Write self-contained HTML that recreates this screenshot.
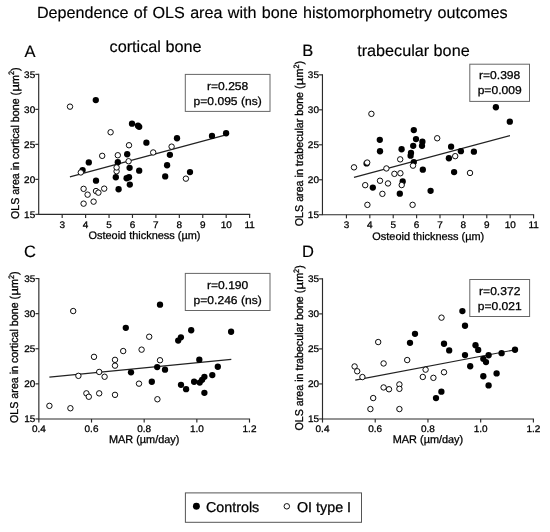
<!DOCTYPE html>
<html><head><meta charset="utf-8"><title>Dependence of OLS area with bone histomorphometry outcomes</title>
<style>html,body{margin:0;padding:0;background:#fff}svg{display:block}text{font-family:"Liberation Sans",Arial,sans-serif;fill:#000;text-rendering:geometricPrecision;stroke:#000;stroke-width:0.28px}.big text{stroke-width:0.15px}</style>
</head><body>
<svg width="550" height="532" viewBox="0 0 550 532">
<rect width="550" height="532" fill="#fff"/>
<g class="big"><text x="36.9" y="18.4" font-size="16.15" word-spacing="0.83">Dependence of OLS area with bone histomorphometry outcomes</text><text x="24.5" y="56.7" font-size="16.5">A</text><text x="302.3" y="55.8" font-size="16.5">B</text><text x="24.1" y="256.9" font-size="16.5">C</text><text x="301.9" y="256.7" font-size="16.5">D</text><text x="155.5" y="52" text-anchor="middle" font-size="16.23">cortical bone</text><text x="413.4" y="55.6" text-anchor="middle" font-size="16.2">trabecular bone</text></g><path d="M38.7 73.77499999999999V214.35H250.195" fill="none" stroke="#2a2a2a" stroke-width="1.15"/><path d="M35.30 74.35H38.7" stroke="#2a2a2a" stroke-width="1.15"/><text transform="translate(35.20 77.65) scale(1.04 1)" text-anchor="end" font-size="9.6">35</text><path d="M35.30 109.35H38.7" stroke="#2a2a2a" stroke-width="1.15"/><text transform="translate(35.20 112.65) scale(1.04 1)" text-anchor="end" font-size="9.6">30</text><path d="M35.30 144.35H38.7" stroke="#2a2a2a" stroke-width="1.15"/><text transform="translate(35.20 147.65) scale(1.04 1)" text-anchor="end" font-size="9.6">25</text><path d="M35.30 179.35H38.7" stroke="#2a2a2a" stroke-width="1.15"/><text transform="translate(35.20 182.65) scale(1.04 1)" text-anchor="end" font-size="9.6">20</text><path d="M35.30 214.35H38.7" stroke="#2a2a2a" stroke-width="1.15"/><text transform="translate(35.20 217.65) scale(1.04 1)" text-anchor="end" font-size="9.6">15</text><path d="M62.18 214.35V217.95" stroke="#2a2a2a" stroke-width="1.15"/><text transform="translate(62.18 227.75) scale(1.04 1)" text-anchor="middle" font-size="9.6">3</text><path d="M85.61 214.35V217.95" stroke="#2a2a2a" stroke-width="1.15"/><text transform="translate(85.61 227.75) scale(1.04 1)" text-anchor="middle" font-size="9.6">4</text><path d="M109.04 214.35V217.95" stroke="#2a2a2a" stroke-width="1.15"/><text transform="translate(109.04 227.75) scale(1.04 1)" text-anchor="middle" font-size="9.6">5</text><path d="M132.47 214.35V217.95" stroke="#2a2a2a" stroke-width="1.15"/><text transform="translate(132.47 227.75) scale(1.04 1)" text-anchor="middle" font-size="9.6">6</text><path d="M155.90 214.35V217.95" stroke="#2a2a2a" stroke-width="1.15"/><text transform="translate(155.90 227.75) scale(1.04 1)" text-anchor="middle" font-size="9.6">7</text><path d="M179.33 214.35V217.95" stroke="#2a2a2a" stroke-width="1.15"/><text transform="translate(179.33 227.75) scale(1.04 1)" text-anchor="middle" font-size="9.6">8</text><path d="M202.76 214.35V217.95" stroke="#2a2a2a" stroke-width="1.15"/><text transform="translate(202.76 227.75) scale(1.04 1)" text-anchor="middle" font-size="9.6">9</text><path d="M226.19 214.35V217.95" stroke="#2a2a2a" stroke-width="1.15"/><text transform="translate(226.19 227.75) scale(1.04 1)" text-anchor="middle" font-size="9.6">10</text><path d="M249.62 214.35V217.95" stroke="#2a2a2a" stroke-width="1.15"/><text transform="translate(249.62 227.75) scale(1.04 1)" text-anchor="middle" font-size="9.6">11</text><text x="144.5" y="239.45" text-anchor="middle" font-size="10.93">Osteoid thickness (µm)</text><text transform="translate(18.6 143.2) rotate(-90) scale(1 1.06)" text-anchor="middle" font-size="10.7">OLS area in cortical bone (<tspan textLength="7.9" lengthAdjust="spacingAndGlyphs">µ</tspan>m<tspan font-size="7.3" dy="-4">2</tspan><tspan dy="4">)</tspan></text><path d="M69.9 176.9L226 134.8" stroke="#222" stroke-width="1.2"/><circle cx="95.8" cy="100.05" r="3.15" fill="#000"/><circle cx="132" cy="123.65" r="3.15" fill="#000"/><circle cx="138" cy="125.65" r="3.15" fill="#000"/><circle cx="139.2" cy="126.85" r="3.15" fill="#000"/><circle cx="146.4" cy="142.65" r="3.15" fill="#000"/><circle cx="127.2" cy="154.25" r="3.15" fill="#000"/><circle cx="169.9" cy="154.85" r="3.15" fill="#000"/><circle cx="88.8" cy="162.45" r="3.15" fill="#000"/><circle cx="117.8" cy="162.25" r="3.15" fill="#000"/><circle cx="82.6" cy="170.05" r="3.15" fill="#000"/><circle cx="129.6" cy="167.85" r="3.15" fill="#000"/><circle cx="139.2" cy="170.65" r="3.15" fill="#000"/><circle cx="167.1" cy="165.25" r="3.15" fill="#000"/><circle cx="115.8" cy="177.25" r="3.15" fill="#000"/><circle cx="129" cy="177.25" r="3.15" fill="#000"/><circle cx="126.6" cy="178.25" r="3.15" fill="#000"/><circle cx="165.2" cy="176.45" r="3.15" fill="#000"/><circle cx="96" cy="180.65" r="3.15" fill="#000"/><circle cx="129.8" cy="184.55" r="3.15" fill="#000"/><circle cx="118.6" cy="189.25" r="3.15" fill="#000"/><circle cx="226.1" cy="133.25" r="3.15" fill="#000"/><circle cx="212" cy="135.95" r="3.15" fill="#000"/><circle cx="177" cy="138.25" r="3.15" fill="#000"/><circle cx="190" cy="172.05" r="3.15" fill="#000"/><circle cx="70" cy="106.65" r="2.72" fill="#fff" stroke="#000" stroke-width="0.95"/><circle cx="110.6" cy="132.25" r="2.72" fill="#fff" stroke="#000" stroke-width="0.95"/><circle cx="129" cy="145.25" r="2.72" fill="#fff" stroke="#000" stroke-width="0.95"/><circle cx="102.2" cy="155.85" r="2.72" fill="#fff" stroke="#000" stroke-width="0.95"/><circle cx="117.8" cy="155.25" r="2.72" fill="#fff" stroke="#000" stroke-width="0.95"/><circle cx="153.2" cy="152.45" r="2.72" fill="#fff" stroke="#000" stroke-width="0.95"/><circle cx="171.6" cy="146.65" r="2.72" fill="#fff" stroke="#000" stroke-width="0.95"/><circle cx="128.6" cy="161.25" r="2.72" fill="#fff" stroke="#000" stroke-width="0.95"/><circle cx="80.8" cy="172.45" r="2.72" fill="#fff" stroke="#000" stroke-width="0.95"/><circle cx="116.6" cy="171.25" r="2.72" fill="#fff" stroke="#000" stroke-width="0.95"/><circle cx="116.6" cy="167.45" r="2.72" fill="#fff" stroke="#000" stroke-width="0.95"/><circle cx="83.6" cy="188.85" r="2.72" fill="#fff" stroke="#000" stroke-width="0.95"/><circle cx="87.6" cy="194.65" r="2.72" fill="#fff" stroke="#000" stroke-width="0.95"/><circle cx="83.6" cy="203.65" r="2.72" fill="#fff" stroke="#000" stroke-width="0.95"/><circle cx="93.6" cy="201.65" r="2.72" fill="#fff" stroke="#000" stroke-width="0.95"/><circle cx="96" cy="191.05" r="2.72" fill="#fff" stroke="#000" stroke-width="0.95"/><circle cx="98.4" cy="192.65" r="2.72" fill="#fff" stroke="#000" stroke-width="0.95"/><circle cx="104.2" cy="188.65" r="2.72" fill="#fff" stroke="#000" stroke-width="0.95"/><circle cx="185.9" cy="178.65" r="2.72" fill="#fff" stroke="#000" stroke-width="0.95"/><rect x="185.3" y="74.4" width="84.70" height="37.00" fill="#fff" stroke="#666" stroke-width="1"/><text transform="translate(227.65 89.60) scale(1.06 1)" text-anchor="middle" font-size="11.4">r=0.258</text><text transform="translate(227.65 104.60) scale(1.06 1)" text-anchor="middle" font-size="11.4">p=0.095 (ns)</text><path d="M322.45 74.27499999999999V214.75H534.135" fill="none" stroke="#2a2a2a" stroke-width="1.15"/><path d="M319.05 74.85H322.45" stroke="#2a2a2a" stroke-width="1.15"/><text transform="translate(318.95 78.15) scale(1.04 1)" text-anchor="end" font-size="9.6">35</text><path d="M319.05 109.82H322.45" stroke="#2a2a2a" stroke-width="1.15"/><text transform="translate(318.95 113.12) scale(1.04 1)" text-anchor="end" font-size="9.6">30</text><path d="M319.05 144.80H322.45" stroke="#2a2a2a" stroke-width="1.15"/><text transform="translate(318.95 148.10) scale(1.04 1)" text-anchor="end" font-size="9.6">25</text><path d="M319.05 179.78H322.45" stroke="#2a2a2a" stroke-width="1.15"/><text transform="translate(318.95 183.08) scale(1.04 1)" text-anchor="end" font-size="9.6">20</text><path d="M319.05 214.75H322.45" stroke="#2a2a2a" stroke-width="1.15"/><text transform="translate(318.95 218.05) scale(1.04 1)" text-anchor="end" font-size="9.6">15</text><path d="M346.44 214.75V218.35" stroke="#2a2a2a" stroke-width="1.15"/><text transform="translate(346.44 228.15) scale(1.04 1)" text-anchor="middle" font-size="9.6">3</text><path d="M369.83 214.75V218.35" stroke="#2a2a2a" stroke-width="1.15"/><text transform="translate(369.83 228.15) scale(1.04 1)" text-anchor="middle" font-size="9.6">4</text><path d="M393.22 214.75V218.35" stroke="#2a2a2a" stroke-width="1.15"/><text transform="translate(393.22 228.15) scale(1.04 1)" text-anchor="middle" font-size="9.6">5</text><path d="M416.61 214.75V218.35" stroke="#2a2a2a" stroke-width="1.15"/><text transform="translate(416.61 228.15) scale(1.04 1)" text-anchor="middle" font-size="9.6">6</text><path d="M440.00 214.75V218.35" stroke="#2a2a2a" stroke-width="1.15"/><text transform="translate(440.00 228.15) scale(1.04 1)" text-anchor="middle" font-size="9.6">7</text><path d="M463.39 214.75V218.35" stroke="#2a2a2a" stroke-width="1.15"/><text transform="translate(463.39 228.15) scale(1.04 1)" text-anchor="middle" font-size="9.6">8</text><path d="M486.78 214.75V218.35" stroke="#2a2a2a" stroke-width="1.15"/><text transform="translate(486.78 228.15) scale(1.04 1)" text-anchor="middle" font-size="9.6">9</text><path d="M510.17 214.75V218.35" stroke="#2a2a2a" stroke-width="1.15"/><text transform="translate(510.17 228.15) scale(1.04 1)" text-anchor="middle" font-size="9.6">10</text><path d="M533.56 214.75V218.35" stroke="#2a2a2a" stroke-width="1.15"/><text transform="translate(533.56 228.15) scale(1.04 1)" text-anchor="middle" font-size="9.6">11</text><text x="428.3" y="239.75" text-anchor="middle" font-size="10.93">Osteoid thickness (µm)</text><text transform="translate(303.1 143.6) rotate(-90) scale(1 1.06)" text-anchor="middle" font-size="10.7">OLS area in trabecular bone (<tspan textLength="7.9" lengthAdjust="spacingAndGlyphs">µ</tspan>m<tspan font-size="7.3" dy="-4">2</tspan><tspan dy="4">)</tspan></text><path d="M354 177.3L510 135.6" stroke="#222" stroke-width="1.2"/><circle cx="413.8" cy="130.05" r="3.15" fill="#000"/><circle cx="416" cy="139.05" r="3.15" fill="#000"/><circle cx="379.8" cy="139.85" r="3.15" fill="#000"/><circle cx="422.4" cy="141.65" r="3.15" fill="#000"/><circle cx="422" cy="145.85" r="3.15" fill="#000"/><circle cx="413.2" cy="145.85" r="3.15" fill="#000"/><circle cx="401.6" cy="149.25" r="3.15" fill="#000"/><circle cx="380" cy="151.25" r="3.15" fill="#000"/><circle cx="411" cy="152.85" r="3.15" fill="#000"/><circle cx="410.6" cy="155.65" r="3.15" fill="#000"/><circle cx="413.8" cy="162.05" r="3.15" fill="#000"/><circle cx="366.6" cy="163.45" r="3.15" fill="#000"/><circle cx="422.8" cy="169.65" r="3.15" fill="#000"/><circle cx="402.7" cy="181.45" r="3.15" fill="#000"/><circle cx="372.8" cy="187.55" r="3.15" fill="#000"/><circle cx="430.6" cy="190.85" r="3.15" fill="#000"/><circle cx="399.8" cy="193.65" r="3.15" fill="#000"/><circle cx="495.9" cy="107.25" r="3.15" fill="#000"/><circle cx="509.8" cy="121.65" r="3.15" fill="#000"/><circle cx="451.1" cy="146.65" r="3.15" fill="#000"/><circle cx="460.9" cy="151.15" r="3.15" fill="#000"/><circle cx="473.9" cy="151.65" r="3.15" fill="#000"/><circle cx="448.9" cy="158.25" r="3.15" fill="#000"/><circle cx="454.1" cy="172.05" r="3.15" fill="#000"/><circle cx="371.4" cy="113.85" r="2.72" fill="#fff" stroke="#000" stroke-width="0.95"/><circle cx="437.2" cy="138.25" r="2.72" fill="#fff" stroke="#000" stroke-width="0.95"/><circle cx="400.2" cy="159.35" r="2.72" fill="#fff" stroke="#000" stroke-width="0.95"/><circle cx="367.2" cy="162.55" r="2.72" fill="#fff" stroke="#000" stroke-width="0.95"/><circle cx="354" cy="167.35" r="2.72" fill="#fff" stroke="#000" stroke-width="0.95"/><circle cx="413" cy="165.65" r="2.72" fill="#fff" stroke="#000" stroke-width="0.95"/><circle cx="386.4" cy="168.45" r="2.72" fill="#fff" stroke="#000" stroke-width="0.95"/><circle cx="394.4" cy="173.85" r="2.72" fill="#fff" stroke="#000" stroke-width="0.95"/><circle cx="400.4" cy="173.25" r="2.72" fill="#fff" stroke="#000" stroke-width="0.95"/><circle cx="380" cy="180.75" r="2.72" fill="#fff" stroke="#000" stroke-width="0.95"/><circle cx="401.7" cy="185.05" r="2.72" fill="#fff" stroke="#000" stroke-width="0.95"/><circle cx="365.2" cy="185.15" r="2.72" fill="#fff" stroke="#000" stroke-width="0.95"/><circle cx="388" cy="183.45" r="2.72" fill="#fff" stroke="#000" stroke-width="0.95"/><circle cx="367.4" cy="204.85" r="2.72" fill="#fff" stroke="#000" stroke-width="0.95"/><circle cx="412.6" cy="204.85" r="2.72" fill="#fff" stroke="#000" stroke-width="0.95"/><circle cx="382.4" cy="193.85" r="2.72" fill="#fff" stroke="#000" stroke-width="0.95"/><circle cx="455.2" cy="156.15" r="2.72" fill="#fff" stroke="#000" stroke-width="0.95"/><circle cx="470" cy="172.95" r="2.72" fill="#fff" stroke="#000" stroke-width="0.95"/><rect x="469.8" y="64.2" width="59.70" height="37.20" fill="#fff" stroke="#666" stroke-width="1"/><text transform="translate(499.65 79.40) scale(1.06 1)" text-anchor="middle" font-size="11.4">r=0.398</text><text transform="translate(499.65 94.40) scale(1.06 1)" text-anchor="middle" font-size="11.4">p=0.009</text><path d="M38.85 277.975V418.95H250.07499999999996" fill="none" stroke="#2a2a2a" stroke-width="1.15"/><path d="M35.45 278.55H38.85" stroke="#2a2a2a" stroke-width="1.15"/><text transform="translate(35.35 281.85) scale(1.04 1)" text-anchor="end" font-size="9.6">35</text><path d="M35.45 313.65H38.85" stroke="#2a2a2a" stroke-width="1.15"/><text transform="translate(35.35 316.95) scale(1.04 1)" text-anchor="end" font-size="9.6">30</text><path d="M35.45 348.75H38.85" stroke="#2a2a2a" stroke-width="1.15"/><text transform="translate(35.35 352.05) scale(1.04 1)" text-anchor="end" font-size="9.6">25</text><path d="M35.45 383.85H38.85" stroke="#2a2a2a" stroke-width="1.15"/><text transform="translate(35.35 387.15) scale(1.04 1)" text-anchor="end" font-size="9.6">20</text><path d="M35.45 418.95H38.85" stroke="#2a2a2a" stroke-width="1.15"/><text transform="translate(35.35 422.25) scale(1.04 1)" text-anchor="end" font-size="9.6">15</text><path d="M38.85 418.95V422.55" stroke="#2a2a2a" stroke-width="1.15"/><text transform="translate(38.85 432.35) scale(1.04 1)" text-anchor="middle" font-size="9.6">0.4</text><path d="M91.51 418.95V422.55" stroke="#2a2a2a" stroke-width="1.15"/><text transform="translate(91.51 432.35) scale(1.04 1)" text-anchor="middle" font-size="9.6">0.6</text><path d="M144.18 418.95V422.55" stroke="#2a2a2a" stroke-width="1.15"/><text transform="translate(144.18 432.35) scale(1.04 1)" text-anchor="middle" font-size="9.6">0.8</text><path d="M196.84 418.95V422.55" stroke="#2a2a2a" stroke-width="1.15"/><text transform="translate(196.84 432.35) scale(1.04 1)" text-anchor="middle" font-size="9.6">1.0</text><path d="M249.50 418.95V422.55" stroke="#2a2a2a" stroke-width="1.15"/><text transform="translate(249.50 432.35) scale(1.04 1)" text-anchor="middle" font-size="9.6">1.2</text><text x="144.2" y="442.55" text-anchor="middle" font-size="10.9">MAR (µm/day)</text><text transform="translate(18.4 347.2) rotate(-90) scale(1 1.06)" text-anchor="middle" font-size="10.7">OLS area in cortical bone (<tspan textLength="7.9" lengthAdjust="spacingAndGlyphs">µ</tspan>m<tspan font-size="7.3" dy="-4">2</tspan><tspan dy="4">)</tspan></text><path d="M49.4 377.2L231.3 359.3" stroke="#222" stroke-width="1.2"/><circle cx="125.8" cy="327.85" r="3.15" fill="#000"/><circle cx="131" cy="372.35" r="3.15" fill="#000"/><circle cx="151.8" cy="381.75" r="3.15" fill="#000"/><circle cx="160" cy="304.65" r="3.15" fill="#000"/><circle cx="191.2" cy="330.25" r="3.15" fill="#000"/><circle cx="231.1" cy="331.75" r="3.15" fill="#000"/><circle cx="180.9" cy="337.35" r="3.15" fill="#000"/><circle cx="178.2" cy="340.55" r="3.15" fill="#000"/><circle cx="199.3" cy="359.65" r="3.15" fill="#000"/><circle cx="157.2" cy="367.05" r="3.15" fill="#000"/><circle cx="165" cy="369.65" r="3.15" fill="#000"/><circle cx="217.8" cy="366.75" r="3.15" fill="#000"/><circle cx="212.3" cy="375.05" r="3.15" fill="#000"/><circle cx="204.4" cy="376.85" r="3.15" fill="#000"/><circle cx="202.1" cy="379.85" r="3.15" fill="#000"/><circle cx="199.7" cy="382.55" r="3.15" fill="#000"/><circle cx="194.1" cy="381.75" r="3.15" fill="#000"/><circle cx="181" cy="384.85" r="3.15" fill="#000"/><circle cx="186.1" cy="389.15" r="3.15" fill="#000"/><circle cx="204.4" cy="392.85" r="3.15" fill="#000"/><circle cx="73.2" cy="311.05" r="2.72" fill="#fff" stroke="#000" stroke-width="0.95"/><circle cx="149.2" cy="336.75" r="2.72" fill="#fff" stroke="#000" stroke-width="0.95"/><circle cx="141.6" cy="349.65" r="2.72" fill="#fff" stroke="#000" stroke-width="0.95"/><circle cx="123.2" cy="351.05" r="2.72" fill="#fff" stroke="#000" stroke-width="0.95"/><circle cx="94" cy="356.85" r="2.72" fill="#fff" stroke="#000" stroke-width="0.95"/><circle cx="115" cy="359.85" r="2.72" fill="#fff" stroke="#000" stroke-width="0.95"/><circle cx="115" cy="365.65" r="2.72" fill="#fff" stroke="#000" stroke-width="0.95"/><circle cx="99.2" cy="371.95" r="2.72" fill="#fff" stroke="#000" stroke-width="0.95"/><circle cx="78.4" cy="375.85" r="2.72" fill="#fff" stroke="#000" stroke-width="0.95"/><circle cx="104.6" cy="376.75" r="2.72" fill="#fff" stroke="#000" stroke-width="0.95"/><circle cx="139" cy="383.65" r="2.72" fill="#fff" stroke="#000" stroke-width="0.95"/><circle cx="86.4" cy="393.35" r="2.72" fill="#fff" stroke="#000" stroke-width="0.95"/><circle cx="88.8" cy="396.75" r="2.72" fill="#fff" stroke="#000" stroke-width="0.95"/><circle cx="99.2" cy="393.35" r="2.72" fill="#fff" stroke="#000" stroke-width="0.95"/><circle cx="115" cy="394.85" r="2.72" fill="#fff" stroke="#000" stroke-width="0.95"/><circle cx="49.4" cy="405.85" r="2.72" fill="#fff" stroke="#000" stroke-width="0.95"/><circle cx="70.4" cy="408.25" r="2.72" fill="#fff" stroke="#000" stroke-width="0.95"/><circle cx="160" cy="360.25" r="2.72" fill="#fff" stroke="#000" stroke-width="0.95"/><circle cx="157.4" cy="399.25" r="2.72" fill="#fff" stroke="#000" stroke-width="0.95"/><rect x="185.3" y="273.4" width="84.70" height="37.10" fill="#fff" stroke="#666" stroke-width="1"/><text transform="translate(227.65 288.60) scale(1.06 1)" text-anchor="middle" font-size="11.4">r=0.190</text><text transform="translate(227.65 303.60) scale(1.06 1)" text-anchor="middle" font-size="11.4">p=0.246 (ns)</text><path d="M322.5 278.27500000000003V418.95H533.975" fill="none" stroke="#2a2a2a" stroke-width="1.15"/><path d="M319.10 278.85H322.5" stroke="#2a2a2a" stroke-width="1.15"/><text transform="translate(319.00 282.15) scale(1.04 1)" text-anchor="end" font-size="9.6">35</text><path d="M319.10 313.88H322.5" stroke="#2a2a2a" stroke-width="1.15"/><text transform="translate(319.00 317.18) scale(1.04 1)" text-anchor="end" font-size="9.6">30</text><path d="M319.10 348.90H322.5" stroke="#2a2a2a" stroke-width="1.15"/><text transform="translate(319.00 352.20) scale(1.04 1)" text-anchor="end" font-size="9.6">25</text><path d="M319.10 383.93H322.5" stroke="#2a2a2a" stroke-width="1.15"/><text transform="translate(319.00 387.23) scale(1.04 1)" text-anchor="end" font-size="9.6">20</text><path d="M319.10 418.95H322.5" stroke="#2a2a2a" stroke-width="1.15"/><text transform="translate(319.00 422.25) scale(1.04 1)" text-anchor="end" font-size="9.6">15</text><path d="M322.50 418.95V422.55" stroke="#2a2a2a" stroke-width="1.15"/><text transform="translate(322.50 432.35) scale(1.04 1)" text-anchor="middle" font-size="9.6">0.4</text><path d="M375.22 418.95V422.55" stroke="#2a2a2a" stroke-width="1.15"/><text transform="translate(375.22 432.35) scale(1.04 1)" text-anchor="middle" font-size="9.6">0.6</text><path d="M427.95 418.95V422.55" stroke="#2a2a2a" stroke-width="1.15"/><text transform="translate(427.95 432.35) scale(1.04 1)" text-anchor="middle" font-size="9.6">0.8</text><path d="M480.67 418.95V422.55" stroke="#2a2a2a" stroke-width="1.15"/><text transform="translate(480.67 432.35) scale(1.04 1)" text-anchor="middle" font-size="9.6">1.0</text><path d="M533.40 418.95V422.55" stroke="#2a2a2a" stroke-width="1.15"/><text transform="translate(533.40 432.35) scale(1.04 1)" text-anchor="middle" font-size="9.6">1.2</text><text x="428" y="442.55" text-anchor="middle" font-size="10.9">MAR (µm/day)</text><text transform="translate(303.3 347.9) rotate(-90) scale(1 1.06)" text-anchor="middle" font-size="10.7">OLS area in trabecular bone (<tspan textLength="7.9" lengthAdjust="spacingAndGlyphs">µ</tspan>m<tspan font-size="7.3" dy="-4">2</tspan><tspan dy="4">)</tspan></text><path d="M355.3 380.2L515 349.8" stroke="#222" stroke-width="1.2"/><circle cx="415" cy="333.85" r="3.15" fill="#000"/><circle cx="410" cy="342.85" r="3.15" fill="#000"/><circle cx="462.4" cy="311.05" r="3.15" fill="#000"/><circle cx="465" cy="325.75" r="3.15" fill="#000"/><circle cx="444" cy="343.75" r="3.15" fill="#000"/><circle cx="449.2" cy="350.45" r="3.15" fill="#000"/><circle cx="475.5" cy="345.25" r="3.15" fill="#000"/><circle cx="478.2" cy="349.95" r="3.15" fill="#000"/><circle cx="515" cy="349.75" r="3.15" fill="#000"/><circle cx="501.6" cy="353.15" r="3.15" fill="#000"/><circle cx="488.6" cy="355.25" r="3.15" fill="#000"/><circle cx="465" cy="355.05" r="3.15" fill="#000"/><circle cx="483.3" cy="358.85" r="3.15" fill="#000"/><circle cx="486" cy="362.05" r="3.15" fill="#000"/><circle cx="470.2" cy="366.25" r="3.15" fill="#000"/><circle cx="496.6" cy="373.45" r="3.15" fill="#000"/><circle cx="483.3" cy="376.25" r="3.15" fill="#000"/><circle cx="488.6" cy="385.45" r="3.15" fill="#000"/><circle cx="441.4" cy="391.65" r="3.15" fill="#000"/><circle cx="436" cy="398.05" r="3.15" fill="#000"/><circle cx="378.2" cy="342.05" r="2.72" fill="#fff" stroke="#000" stroke-width="0.95"/><circle cx="407.2" cy="360.05" r="2.72" fill="#fff" stroke="#000" stroke-width="0.95"/><circle cx="383.6" cy="363.45" r="2.72" fill="#fff" stroke="#000" stroke-width="0.95"/><circle cx="354.6" cy="366.45" r="2.72" fill="#fff" stroke="#000" stroke-width="0.95"/><circle cx="357.2" cy="371.25" r="2.72" fill="#fff" stroke="#000" stroke-width="0.95"/><circle cx="362.4" cy="377.05" r="2.72" fill="#fff" stroke="#000" stroke-width="0.95"/><circle cx="425.6" cy="369.65" r="2.72" fill="#fff" stroke="#000" stroke-width="0.95"/><circle cx="422.8" cy="376.95" r="2.72" fill="#fff" stroke="#000" stroke-width="0.95"/><circle cx="399.4" cy="384.45" r="2.72" fill="#fff" stroke="#000" stroke-width="0.95"/><circle cx="399.4" cy="388.85" r="2.72" fill="#fff" stroke="#000" stroke-width="0.95"/><circle cx="383.6" cy="387.45" r="2.72" fill="#fff" stroke="#000" stroke-width="0.95"/><circle cx="389" cy="389.25" r="2.72" fill="#fff" stroke="#000" stroke-width="0.95"/><circle cx="373.2" cy="398.05" r="2.72" fill="#fff" stroke="#000" stroke-width="0.95"/><circle cx="370.4" cy="409.05" r="2.72" fill="#fff" stroke="#000" stroke-width="0.95"/><circle cx="399.4" cy="409.05" r="2.72" fill="#fff" stroke="#000" stroke-width="0.95"/><circle cx="441.5" cy="317.65" r="2.72" fill="#fff" stroke="#000" stroke-width="0.95"/><circle cx="444" cy="372.25" r="2.72" fill="#fff" stroke="#000" stroke-width="0.95"/><circle cx="433.4" cy="377.85" r="2.72" fill="#fff" stroke="#000" stroke-width="0.95"/><rect x="469.8" y="279.5" width="59.80" height="37.00" fill="#fff" stroke="#666" stroke-width="1"/><text transform="translate(499.70 294.70) scale(1.06 1)" text-anchor="middle" font-size="11.4">r=0.372</text><text transform="translate(499.70 309.70) scale(1.06 1)" text-anchor="middle" font-size="11.4">p=0.021</text><rect x="185.4" y="492.9" width="176.1" height="29.4" fill="#fff" stroke="#555" stroke-width="1"/><circle cx="196.4" cy="506.3" r="3.45" fill="#000"/><text x="206.0" y="511.5" font-size="14.3">Controls</text><circle cx="286.8" cy="506.3" r="2.75" fill="#fff" stroke="#111" stroke-width="1.0"/><text x="297.0" y="511.5" font-size="14.3">OI type I</text>
</svg>
</body></html>
